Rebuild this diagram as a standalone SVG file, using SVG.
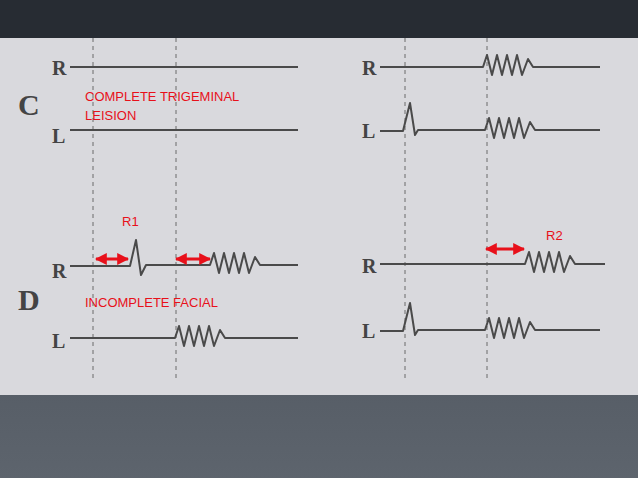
<svg xmlns="http://www.w3.org/2000/svg" width="638" height="478" viewBox="0 0 638 478">
<defs>
<linearGradient id="bg" x1="0" y1="0" x2="0" y2="1"><stop offset="0" stop-color="#3c434c"/><stop offset="1" stop-color="#5d646d"/></linearGradient>
<marker id="ah" viewBox="0 0 10 10" refX="9" refY="5" markerWidth="4" markerHeight="4" orient="auto-start-reverse"><path d="M0,0L10,5L0,10z" fill="#e8101a"/></marker>
<style>
.tr{fill:none;stroke:#4a4a4a;stroke-width:2;stroke-linejoin:round}
.dash{stroke:#6a6a6a;stroke-width:1;stroke-dasharray:4,4}
.lb{font-family:"Liberation Serif",serif;font-weight:bold;font-size:20px;fill:#444}
.big{font-family:"Liberation Serif",serif;font-weight:bold;font-size:30px;fill:#444}
.rt{font-family:"Liberation Sans",sans-serif;font-size:13px;fill:#e8101a}
.ar{stroke:#e8101a;stroke-width:3;marker-start:url(#ah);marker-end:url(#ah)}
</style>
</defs>
<rect width="638" height="478" fill="url(#bg)"/>
<rect width="638" height="38" fill="#272c33"/>
<rect y="38" width="638" height="357" fill="#d9d9dd"/>
<g class="dash"><line x1="93" y1="38" x2="93" y2="380"/><line x1="176" y1="38" x2="176" y2="380"/><line x1="405" y1="38" x2="405" y2="380"/><line x1="487" y1="38" x2="487" y2="380"/></g>
<text class="big" x="18" y="115">C</text><text class="big" x="18" y="310">D</text>
<g class="lb"><text x="52" y="75">R</text><text x="52" y="143">L</text><text x="52" y="278">R</text><text x="52" y="348">L</text><text x="362" y="75">R</text><text x="362" y="138">L</text><text x="362" y="273">R</text><text x="362" y="338">L</text></g>
<g class="tr">
<path d="M70,67H298"/><path d="M70,130H298"/>
<path d="M380,67H483l4,-12 5,20 5,-20 5,20 5,-20 5,20 5,-20 5,20 6,-16 5,8H600"/>
<path d="M380,131H403l7,-28 5,32 3,-5H485l4,-12 5,20 5,-20 5,20 5,-20 5,20 5,-20 5,20 6,-16 5,8H600"/>
<path d="M70,266H130l6,-26 5,35 5,-10H210l4,-12 5,20 5,-20 5,20 5,-20 5,20 5,-20 5,20 6,-16 5,8H298"/>
<path d="M70,338H175l4,-12 5,20 5,-20 5,20 5,-20 5,20 5,-20 5,20 6,-16 5,8H298"/>
<path d="M380,264H525l4,-12 5,20 5,-20 5,20 5,-20 5,20 5,-20 5,20 6,-16 5,8H605"/>
<path d="M380,331H403l7,-28 5,32 3,-5H485l4,-12 5,20 5,-20 5,20 5,-20 5,20 5,-20 5,20 6,-16 5,8H600"/>
</g>
<g><line class="ar" x1="96" y1="259" x2="128" y2="259"/><line class="ar" x1="176" y1="259" x2="210" y2="259"/><line class="ar" x1="486" y1="249" x2="524" y2="249"/></g>
<g class="rt"><text x="85" y="101">COMPLETE TRIGEMINAL</text><text x="85" y="120">LEISION</text><text x="122" y="226">R1</text><text x="546" y="240">R2</text><text x="85" y="307">INCOMPLETE FACIAL</text></g>
</svg>
